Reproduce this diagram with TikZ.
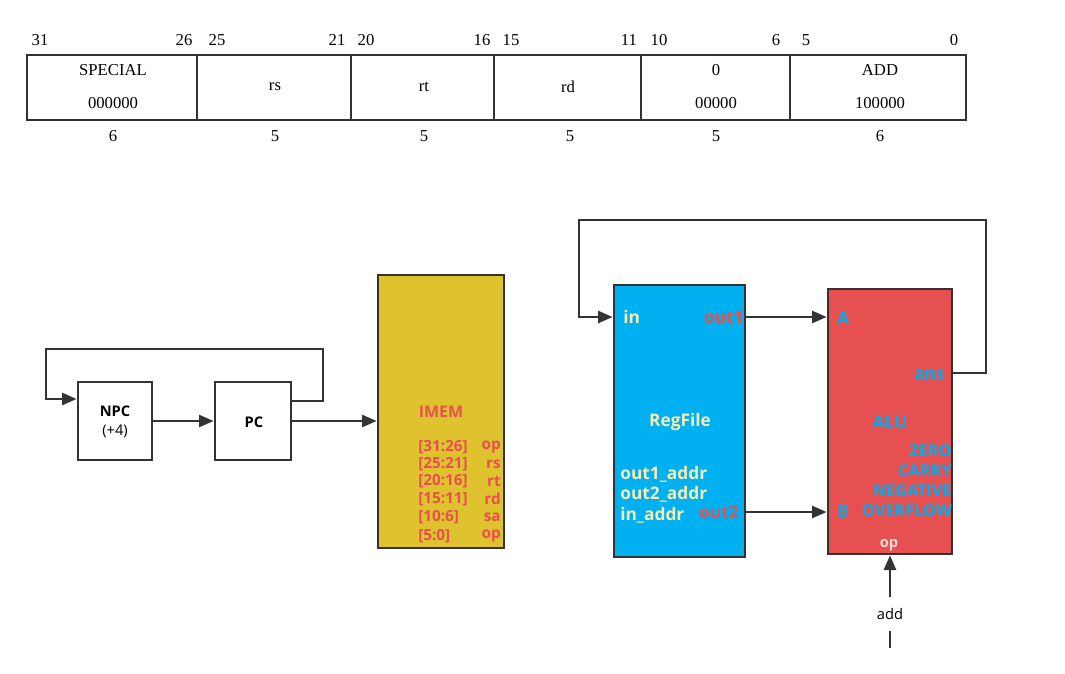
\documentclass[tikz,border=0pt]{standalone}
\usepackage{fontspec}
\setmainfont{Liberation Serif}
\newfontfamily\dsans{Open Sans}
\usetikzlibrary{arrows.meta}
\definecolor{lc}{HTML}{333333}
\definecolor{imemfill}{HTML}{DEC32F}
\definecolor{rffill}{HTML}{00B0F0}
\definecolor{alufill}{HTML}{E75050}
\definecolor{redtxt}{HTML}{E8504F}
\definecolor{bluetxt}{HTML}{00AEEF}
\definecolor{paletxt}{HTML}{F6EBB2}
\definecolor{optxt}{HTML}{F6DADA}
\tikzset{
  cell/.style={draw=lc, line width=1.4pt, inner sep=0pt, minimum height=48.75pt},
  tt/.style={font=\fontsize{12.5}{14}\selectfont, inner sep=0pt, text=black},
  blk/.style={draw=lc, line width=2pt, inner sep=0pt},
  arr/.style={draw=lc, line width=2pt, -{Triangle[length=11pt,width=9pt]}},
  wire/.style={draw=lc, line width=2pt},
  lbl/.style={font=\dsans\bfseries\fontsize{13}{15}\selectfont, inner sep=0pt},
  flag/.style={font=\dsans\bfseries\fontsize{12.2}{14}\selectfont, inner sep=0pt, text=bluetxt, anchor=east},
  iml/.style={font=\dsans\bfseries\fontsize{11.5}{13}\selectfont, inner sep=0pt, text=redtxt},
  sm/.style={font=\dsans\fontsize{11}{13}\selectfont, inner sep=0pt},
}
\begin{document}
\begin{tikzpicture}[x=0.75pt,y=-0.75pt]
\useasboundingbox (0,0) rectangle (1065,674);
% ---- instruction format table ----
\node[cell, minimum width=127.5pt] (c1) at (112,87.5) {};
\node[cell, minimum width=115.5pt] (c2) at (274,87.5) {};
\node[cell, minimum width=107.25pt] (c3) at (422.5,87.5) {};
\node[cell, minimum width=110.25pt] (c4) at (567.5,87.5) {};
\node[cell, minimum width=111.75pt] (c5) at (715.5,87.5) {};
\node[cell, minimum width=132pt] (c6) at (878,87.5) {};
\node[tt] (t1a) at (113,70) {SPECIAL};
\node[tt] (t1b) at (113,103) {000000};
\node[tt] (t2) at (275,87) {rs};
\node[tt] (t3) at (424,87) {rt};
\node[tt] (t4) at (568,87) {rd};
\node[tt] (t5a) at (716,70) {0};
\node[tt] (t5b) at (716,103) {00000};
\node[tt] (t6a) at (880,70) {ADD};
\node[tt] (t6b) at (880,103) {100000};
\foreach \x/\t/\n in {40/31/b1,184/26/b2,217/25/b3,337/21/b4,366/20/b5,482/16/b6,511/15/b7,629/11/b8,659/10/b9,776/6/b10,806/5/b11,954/0/b12}
  \node[tt] (\n) at (\x,40) {\t};
\foreach \x/\t/\n in {113/6/w1,275/5/w2,424/5/w3,570/5/w4,716/5/w5,880/6/w6}
  \node[tt] (\n) at (\x,136) {\t};
% ---- datapath ----
\node[blk, fill=white, minimum width=55.5pt, minimum height=58.5pt] (npc) at (115,421) {};
\node[font=\dsans\fontsize{11}{13}\selectfont, align=center, inner sep=0pt] (npct) at (115,422) {\textbf{NPC}\\[1pt](+4)};
\node[blk, fill=white, minimum width=57pt, minimum height=58.5pt] (pc) at (253,421) {};
\node[font=\dsans\bfseries\fontsize{11}{13}\selectfont, inner sep=0pt] (pct) at (254,422) {PC};
\node[blk, fill=imemfill, minimum width=94.5pt, minimum height=204.75pt] (imem) at (441,411.5) {};
\node[blk, fill=rffill, minimum width=98.25pt, minimum height=204pt] (rf) at (679.5,421) {};
\node[blk, fill=alufill, minimum width=93pt, minimum height=198.75pt] (alu) at (890,421.5) {};
% IMEM text
\node[iml, font=\dsans\bfseries\fontsize{12}{14}\selectfont] (imt) at (441,412) {IMEM};
\foreach \y/\a/\b/\n in {447/{[31:26]}/op/m1,464/{[25:21]}/rs/m2,481/{[20:16]}/rt/m3,499/{[15:11]}/rd/m4,517/{[10:6]}/sa/m5,536/{[5:0]}/op/m6}{
  \node[iml, anchor=west] (\n a) at (418,\y) {\a};
  \node[iml, anchor=east] (\n b) at (501,\y) {\b};
}
% RegFile text
\node[lbl, text=paletxt, anchor=west] (rin) at (623,317) {in};
\node[lbl, text=redtxt, anchor=east] (rout1) at (744,317) {out1};
\node[lbl, text=paletxt] (rft) at (680,422) {RegFile};
\node[lbl, text=paletxt, anchor=west] (ra1) at (620,474) {out1\_addr};
\node[lbl, text=paletxt, anchor=west] (ra2) at (620,494) {out2\_addr};
\node[lbl, text=paletxt, anchor=west] (ra3) at (620,515) {in\_addr};
\node[lbl, text=redtxt, anchor=east] (rout2) at (739,512) {out2};
% ALU text
\node[lbl, text=bluetxt, anchor=west] (aA) at (837,318) {A};
\node[lbl, text=bluetxt, anchor=east] (ans) at (945,375) {ans};
\node[lbl, text=bluetxt] (alut) at (890,422) {ALU};
\node[flag] (zf) at (952,451) {ZERO};
\node[flag] (cf) at (952,471) {CARRY};
\node[flag] (nf) at (952,491) {NEGATIVE};
\node[flag] (of) at (952,511) {OVERFLOW};
\node[lbl, text=bluetxt, anchor=west] (aB) at (837,511) {B};
\node[lbl, text=optxt, font=\dsans\bfseries\fontsize{11}{13}\selectfont] (aop) at (889,545) {op};
% connectors
\draw[arr] (npc.east) -- (pc.west);
\draw[arr] (pc.east) -- (pc.east -| imem.west);
\draw[arr] ([yshift=15pt]pc.east) -| (323,349) -| (46,399) -- ([yshift=16.5pt]npc.west);
\draw[arr] ([yshift=78pt]rf.east) -- ([yshift=78pt]rf.east -| alu.west);
\draw[arr] ([yshift=-68.25pt]rf.east) -- ([yshift=-68.25pt]rf.east -| alu.west);
\draw[arr] ([yshift=36.4pt]alu.east) -| (986,220) -| (579,317) -- ([yshift=78pt]rf.west);
\node[sm, inner ysep=8pt] (add) at (890,614) {add};
\coordinate (addin) at (890,648);
\draw[arr] (add.north) -- (alu.south);
\draw[wire] (addin) -- (add.south);
\end{tikzpicture}
\end{document}
